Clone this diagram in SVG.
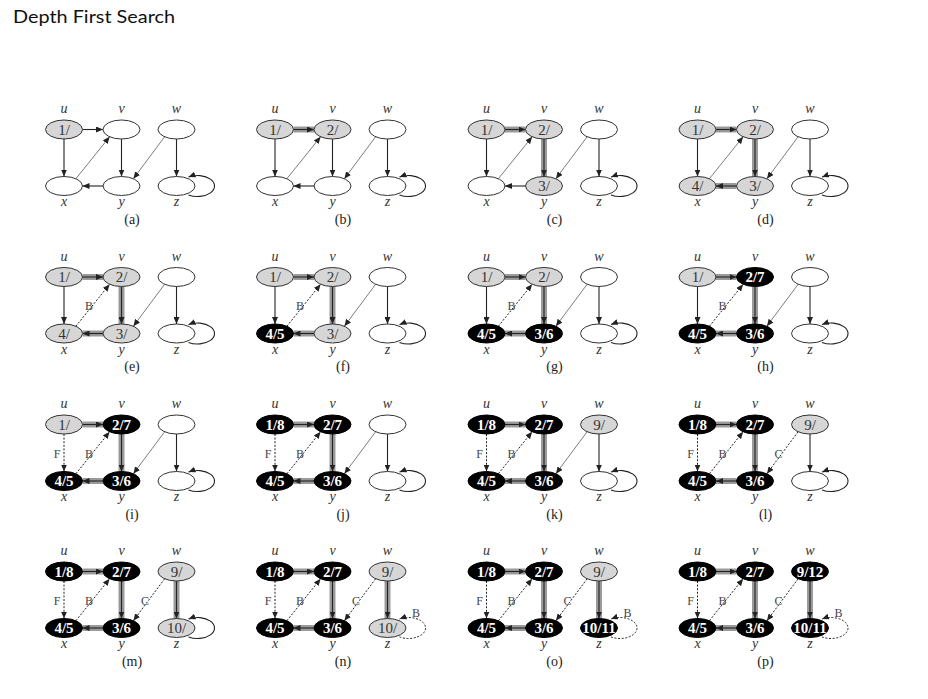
<svg xmlns="http://www.w3.org/2000/svg" width="928" height="699" viewBox="0 0 928 699">
<defs>
<marker id="ah" markerUnits="userSpaceOnUse" markerWidth="7" markerHeight="6" refX="7" refY="3" orient="auto"><path d="M0,0L7,3L0,6z" fill="#222"/></marker>
<style>
.wn{fill:#fff;stroke:#333;stroke-width:1}
.gn{fill:#d6d6d6;stroke:#333;stroke-width:1}
.bn{fill:#000;stroke:#000;stroke-width:1}
.gt{font-family:"Liberation Serif",serif;font-size:15px;fill:#333;text-anchor:middle}
.bt{font-family:"Liberation Serif",serif;font-size:15px;font-weight:bold;fill:#fff;text-anchor:middle}
.nm{font-family:"Liberation Serif",serif;font-style:italic;font-size:14px;fill:#333;text-anchor:middle}
.pl{font-family:"Liberation Serif",serif;font-size:14px;fill:#222;text-anchor:middle}
.el{font-family:"Liberation Serif",serif;font-size:12px;fill:#444;text-anchor:middle}
.e{fill:none;stroke:#222;stroke-width:1.1;marker-end:url(#ah)}
.t{fill:none;stroke:#9a9a9a;stroke-width:6}
.th{fill:none;stroke:#444;stroke-width:0.7;marker-end:url(#ah)}
.d{fill:none;stroke:#222;stroke-width:1;stroke-dasharray:2 1.6;marker-end:url(#ah)}
.title{font-family:Lato,"Open Sans",sans-serif;font-size:18px;fill:#111}
</style>
</defs>
<rect width="928" height="699" fill="#fff"/>
<text class="title" x="13" y="23" textLength="162" lengthAdjust="spacingAndGlyphs">Depth First Search</text>

<!-- (a) -->
<g id="panel-a" transform="translate(64,129.5)">
<g id="a-edges">
<path class="e" d="M18.5,0H39"/><path class="e" d="M0,9.5V47"/><path class="e" d="M57.5,9.5V47"/><path class="e" d="M39,56.5H18.5"/><path class="e" d="M112.5,9.5V47"/><path class="th" d="M11.9,49.2L45.6,7.3"/><path class="th" d="M100.6,7.3L69.4,49.2"/><path class="e" d="M124.5,65.4A17,10.5 0 1 0 124.5,47.6"/>
</g>
<g id="a-u"><ellipse class="gn" cx="0" cy="0" rx="18.5" ry="9.5"/><text class="gt" x="0" y="5">1/</text><text class="nm" x="0" y="-16.5">u</text></g>
<g id="a-v"><ellipse class="wn" cx="57.5" cy="0" rx="18.5" ry="9.5"/><text class="nm" x="57.5" y="-16.5">v</text></g>
<g id="a-w"><ellipse class="wn" cx="112.5" cy="0" rx="18.5" ry="9.5"/><text class="nm" x="112.5" y="-16.5">w</text></g>
<g id="a-x"><ellipse class="wn" cx="0" cy="56.5" rx="18.5" ry="9.5"/><text class="nm" x="0" y="76.5">x</text></g>
<g id="a-y"><ellipse class="wn" cx="57.5" cy="56.5" rx="18.5" ry="9.5"/><text class="nm" x="57.5" y="76.5">y</text></g>
<g id="a-z"><ellipse class="wn" cx="112.5" cy="56.5" rx="18.5" ry="9.5"/><text class="nm" x="112.5" y="76.5">z</text></g>
<text class="pl" x="68" y="94">(a)</text>
</g>

<!-- (b) -->
<g id="panel-b" transform="translate(275,129.5)">
<g id="b-edges">
<path class="t" d="M18.5,0H39"/>
<path class="e" d="M18.5,0H39"/><path class="e" d="M0,9.5V47"/><path class="e" d="M57.5,9.5V47"/><path class="e" d="M39,56.5H18.5"/><path class="e" d="M112.5,9.5V47"/><path class="th" d="M11.9,49.2L45.6,7.3"/><path class="th" d="M100.6,7.3L69.4,49.2"/><path class="e" d="M124.5,65.4A17,10.5 0 1 0 124.5,47.6"/>
</g>
<g id="b-u"><ellipse class="gn" cx="0" cy="0" rx="18.5" ry="9.5"/><text class="gt" x="0" y="5">1/</text><text class="nm" x="0" y="-16.5">u</text></g>
<g id="b-v"><ellipse class="gn" cx="57.5" cy="0" rx="18.5" ry="9.5"/><text class="gt" x="57.5" y="5">2/</text><text class="nm" x="57.5" y="-16.5">v</text></g>
<g id="b-w"><ellipse class="wn" cx="112.5" cy="0" rx="18.5" ry="9.5"/><text class="nm" x="112.5" y="-16.5">w</text></g>
<g id="b-x"><ellipse class="wn" cx="0" cy="56.5" rx="18.5" ry="9.5"/><text class="nm" x="0" y="76.5">x</text></g>
<g id="b-y"><ellipse class="wn" cx="57.5" cy="56.5" rx="18.5" ry="9.5"/><text class="nm" x="57.5" y="76.5">y</text></g>
<g id="b-z"><ellipse class="wn" cx="112.5" cy="56.5" rx="18.5" ry="9.5"/><text class="nm" x="112.5" y="76.5">z</text></g>
<text class="pl" x="68" y="94">(b)</text>
</g>

<!-- (c) -->
<g id="panel-c" transform="translate(486.5,129.5)">
<g id="c-edges">
<path class="t" d="M18.5,0H39"/><path class="t" d="M57.5,9.5V47"/>
<path class="e" d="M18.5,0H39"/><path class="e" d="M0,9.5V47"/><path class="e" d="M57.5,9.5V47"/><path class="e" d="M39,56.5H18.5"/><path class="e" d="M112.5,9.5V47"/><path class="th" d="M11.9,49.2L45.6,7.3"/><path class="th" d="M100.6,7.3L69.4,49.2"/><path class="e" d="M124.5,65.4A17,10.5 0 1 0 124.5,47.6"/>
</g>
<g id="c-u"><ellipse class="gn" cx="0" cy="0" rx="18.5" ry="9.5"/><text class="gt" x="0" y="5">1/</text><text class="nm" x="0" y="-16.5">u</text></g>
<g id="c-v"><ellipse class="gn" cx="57.5" cy="0" rx="18.5" ry="9.5"/><text class="gt" x="57.5" y="5">2/</text><text class="nm" x="57.5" y="-16.5">v</text></g>
<g id="c-w"><ellipse class="wn" cx="112.5" cy="0" rx="18.5" ry="9.5"/><text class="nm" x="112.5" y="-16.5">w</text></g>
<g id="c-x"><ellipse class="wn" cx="0" cy="56.5" rx="18.5" ry="9.5"/><text class="nm" x="0" y="76.5">x</text></g>
<g id="c-y"><ellipse class="gn" cx="57.5" cy="56.5" rx="18.5" ry="9.5"/><text class="gt" x="57.5" y="61.5">3/</text><text class="nm" x="57.5" y="76.5">y</text></g>
<g id="c-z"><ellipse class="wn" cx="112.5" cy="56.5" rx="18.5" ry="9.5"/><text class="nm" x="112.5" y="76.5">z</text></g>
<text class="pl" x="68" y="94">(c)</text>
</g>

<!-- (d) -->
<g id="panel-d" transform="translate(697.5,129.5)">
<g id="d-edges">
<path class="t" d="M18.5,0H39"/><path class="t" d="M57.5,9.5V47"/><path class="t" d="M39,56.5H18.5"/>
<path class="e" d="M18.5,0H39"/><path class="e" d="M0,9.5V47"/><path class="e" d="M57.5,9.5V47"/><path class="e" d="M39,56.5H18.5"/><path class="e" d="M112.5,9.5V47"/><path class="th" d="M11.9,49.2L45.6,7.3"/><path class="th" d="M100.6,7.3L69.4,49.2"/><path class="e" d="M124.5,65.4A17,10.5 0 1 0 124.5,47.6"/>
</g>
<g id="d-u"><ellipse class="gn" cx="0" cy="0" rx="18.5" ry="9.5"/><text class="gt" x="0" y="5">1/</text><text class="nm" x="0" y="-16.5">u</text></g>
<g id="d-v"><ellipse class="gn" cx="57.5" cy="0" rx="18.5" ry="9.5"/><text class="gt" x="57.5" y="5">2/</text><text class="nm" x="57.5" y="-16.5">v</text></g>
<g id="d-w"><ellipse class="wn" cx="112.5" cy="0" rx="18.5" ry="9.5"/><text class="nm" x="112.5" y="-16.5">w</text></g>
<g id="d-x"><ellipse class="gn" cx="0" cy="56.5" rx="18.5" ry="9.5"/><text class="gt" x="0" y="61.5">4/</text><text class="nm" x="0" y="76.5">x</text></g>
<g id="d-y"><ellipse class="gn" cx="57.5" cy="56.5" rx="18.5" ry="9.5"/><text class="gt" x="57.5" y="61.5">3/</text><text class="nm" x="57.5" y="76.5">y</text></g>
<g id="d-z"><ellipse class="wn" cx="112.5" cy="56.5" rx="18.5" ry="9.5"/><text class="nm" x="112.5" y="76.5">z</text></g>
<text class="pl" x="68" y="94">(d)</text>
</g>

<!-- (e) -->
<g id="panel-e" transform="translate(64,277)">
<g id="e-edges">
<path class="t" d="M18.5,0H39"/><path class="t" d="M57.5,9.5V47"/><path class="t" d="M39,56.5H18.5"/>
<path class="e" d="M18.5,0H39"/><path class="e" d="M0,9.5V47"/><path class="e" d="M57.5,9.5V47"/><path class="e" d="M39,56.5H18.5"/><path class="e" d="M112.5,9.5V47"/><path class="d" d="M11.9,49.2L45.6,7.3"/><path class="th" d="M100.6,7.3L69.4,49.2"/><path class="e" d="M124.5,65.4A17,10.5 0 1 0 124.5,47.6"/>
<text class="el" x="25" y="33">B</text>
</g>
<g id="e-u"><ellipse class="gn" cx="0" cy="0" rx="18.5" ry="9.5"/><text class="gt" x="0" y="5">1/</text><text class="nm" x="0" y="-16.5">u</text></g>
<g id="e-v"><ellipse class="gn" cx="57.5" cy="0" rx="18.5" ry="9.5"/><text class="gt" x="57.5" y="5">2/</text><text class="nm" x="57.5" y="-16.5">v</text></g>
<g id="e-w"><ellipse class="wn" cx="112.5" cy="0" rx="18.5" ry="9.5"/><text class="nm" x="112.5" y="-16.5">w</text></g>
<g id="e-x"><ellipse class="gn" cx="0" cy="56.5" rx="18.5" ry="9.5"/><text class="gt" x="0" y="61.5">4/</text><text class="nm" x="0" y="76.5">x</text></g>
<g id="e-y"><ellipse class="gn" cx="57.5" cy="56.5" rx="18.5" ry="9.5"/><text class="gt" x="57.5" y="61.5">3/</text><text class="nm" x="57.5" y="76.5">y</text></g>
<g id="e-z"><ellipse class="wn" cx="112.5" cy="56.5" rx="18.5" ry="9.5"/><text class="nm" x="112.5" y="76.5">z</text></g>
<text class="pl" x="68" y="94">(e)</text>
</g>

<!-- (f) -->
<g id="panel-f" transform="translate(275,277)">
<g id="f-edges">
<path class="t" d="M18.5,0H39"/><path class="t" d="M57.5,9.5V47"/><path class="t" d="M39,56.5H18.5"/>
<path class="e" d="M18.5,0H39"/><path class="e" d="M0,9.5V47"/><path class="e" d="M57.5,9.5V47"/><path class="e" d="M39,56.5H18.5"/><path class="e" d="M112.5,9.5V47"/><path class="d" d="M11.9,49.2L45.6,7.3"/><path class="th" d="M100.6,7.3L69.4,49.2"/><path class="e" d="M124.5,65.4A17,10.5 0 1 0 124.5,47.6"/>
<text class="el" x="25" y="33">B</text>
</g>
<g id="f-u"><ellipse class="gn" cx="0" cy="0" rx="18.5" ry="9.5"/><text class="gt" x="0" y="5">1/</text><text class="nm" x="0" y="-16.5">u</text></g>
<g id="f-v"><ellipse class="gn" cx="57.5" cy="0" rx="18.5" ry="9.5"/><text class="gt" x="57.5" y="5">2/</text><text class="nm" x="57.5" y="-16.5">v</text></g>
<g id="f-w"><ellipse class="wn" cx="112.5" cy="0" rx="18.5" ry="9.5"/><text class="nm" x="112.5" y="-16.5">w</text></g>
<g id="f-x"><ellipse class="bn" cx="0" cy="56.5" rx="18.5" ry="9.5"/><text class="bt" x="0" y="61.5">4/5</text><text class="nm" x="0" y="76.5">x</text></g>
<g id="f-y"><ellipse class="gn" cx="57.5" cy="56.5" rx="18.5" ry="9.5"/><text class="gt" x="57.5" y="61.5">3/</text><text class="nm" x="57.5" y="76.5">y</text></g>
<g id="f-z"><ellipse class="wn" cx="112.5" cy="56.5" rx="18.5" ry="9.5"/><text class="nm" x="112.5" y="76.5">z</text></g>
<text class="pl" x="68" y="94">(f)</text>
</g>

<!-- (g) -->
<g id="panel-g" transform="translate(486.5,277)">
<g id="g-edges">
<path class="t" d="M18.5,0H39"/><path class="t" d="M57.5,9.5V47"/><path class="t" d="M39,56.5H18.5"/>
<path class="e" d="M18.5,0H39"/><path class="e" d="M0,9.5V47"/><path class="e" d="M57.5,9.5V47"/><path class="e" d="M39,56.5H18.5"/><path class="e" d="M112.5,9.5V47"/><path class="d" d="M11.9,49.2L45.6,7.3"/><path class="th" d="M100.6,7.3L69.4,49.2"/><path class="e" d="M124.5,65.4A17,10.5 0 1 0 124.5,47.6"/>
<text class="el" x="25" y="33">B</text>
</g>
<g id="g-u"><ellipse class="gn" cx="0" cy="0" rx="18.5" ry="9.5"/><text class="gt" x="0" y="5">1/</text><text class="nm" x="0" y="-16.5">u</text></g>
<g id="g-v"><ellipse class="gn" cx="57.5" cy="0" rx="18.5" ry="9.5"/><text class="gt" x="57.5" y="5">2/</text><text class="nm" x="57.5" y="-16.5">v</text></g>
<g id="g-w"><ellipse class="wn" cx="112.5" cy="0" rx="18.5" ry="9.5"/><text class="nm" x="112.5" y="-16.5">w</text></g>
<g id="g-x"><ellipse class="bn" cx="0" cy="56.5" rx="18.5" ry="9.5"/><text class="bt" x="0" y="61.5">4/5</text><text class="nm" x="0" y="76.5">x</text></g>
<g id="g-y"><ellipse class="bn" cx="57.5" cy="56.5" rx="18.5" ry="9.5"/><text class="bt" x="57.5" y="61.5">3/6</text><text class="nm" x="57.5" y="76.5">y</text></g>
<g id="g-z"><ellipse class="wn" cx="112.5" cy="56.5" rx="18.5" ry="9.5"/><text class="nm" x="112.5" y="76.5">z</text></g>
<text class="pl" x="68" y="94">(g)</text>
</g>

<!-- (h) -->
<g id="panel-h" transform="translate(697.5,277)">
<g id="h-edges">
<path class="t" d="M18.5,0H39"/><path class="t" d="M57.5,9.5V47"/><path class="t" d="M39,56.5H18.5"/>
<path class="e" d="M18.5,0H39"/><path class="e" d="M0,9.5V47"/><path class="e" d="M57.5,9.5V47"/><path class="e" d="M39,56.5H18.5"/><path class="e" d="M112.5,9.5V47"/><path class="d" d="M11.9,49.2L45.6,7.3"/><path class="th" d="M100.6,7.3L69.4,49.2"/><path class="e" d="M124.5,65.4A17,10.5 0 1 0 124.5,47.6"/>
<text class="el" x="25" y="33">B</text>
</g>
<g id="h-u"><ellipse class="gn" cx="0" cy="0" rx="18.5" ry="9.5"/><text class="gt" x="0" y="5">1/</text><text class="nm" x="0" y="-16.5">u</text></g>
<g id="h-v"><ellipse class="bn" cx="57.5" cy="0" rx="18.5" ry="9.5"/><text class="bt" x="57.5" y="5">2/7</text><text class="nm" x="57.5" y="-16.5">v</text></g>
<g id="h-w"><ellipse class="wn" cx="112.5" cy="0" rx="18.5" ry="9.5"/><text class="nm" x="112.5" y="-16.5">w</text></g>
<g id="h-x"><ellipse class="bn" cx="0" cy="56.5" rx="18.5" ry="9.5"/><text class="bt" x="0" y="61.5">4/5</text><text class="nm" x="0" y="76.5">x</text></g>
<g id="h-y"><ellipse class="bn" cx="57.5" cy="56.5" rx="18.5" ry="9.5"/><text class="bt" x="57.5" y="61.5">3/6</text><text class="nm" x="57.5" y="76.5">y</text></g>
<g id="h-z"><ellipse class="wn" cx="112.5" cy="56.5" rx="18.5" ry="9.5"/><text class="nm" x="112.5" y="76.5">z</text></g>
<text class="pl" x="68" y="94">(h)</text>
</g>

<!-- (i) -->
<g id="panel-i" transform="translate(64,424.5)">
<g id="i-edges">
<path class="t" d="M18.5,0H39"/><path class="t" d="M57.5,9.5V47"/><path class="t" d="M39,56.5H18.5"/>
<path class="e" d="M18.5,0H39"/><path class="d" d="M0,9.5V47"/><path class="e" d="M57.5,9.5V47"/><path class="e" d="M39,56.5H18.5"/><path class="e" d="M112.5,9.5V47"/><path class="d" d="M11.9,49.2L45.6,7.3"/><path class="th" d="M100.6,7.3L69.4,49.2"/><path class="e" d="M124.5,65.4A17,10.5 0 1 0 124.5,47.6"/>
<text class="el" x="-7" y="33">F</text><text class="el" x="25" y="33">B</text>
</g>
<g id="i-u"><ellipse class="gn" cx="0" cy="0" rx="18.5" ry="9.5"/><text class="gt" x="0" y="5">1/</text><text class="nm" x="0" y="-16.5">u</text></g>
<g id="i-v"><ellipse class="bn" cx="57.5" cy="0" rx="18.5" ry="9.5"/><text class="bt" x="57.5" y="5">2/7</text><text class="nm" x="57.5" y="-16.5">v</text></g>
<g id="i-w"><ellipse class="wn" cx="112.5" cy="0" rx="18.5" ry="9.5"/><text class="nm" x="112.5" y="-16.5">w</text></g>
<g id="i-x"><ellipse class="bn" cx="0" cy="56.5" rx="18.5" ry="9.5"/><text class="bt" x="0" y="61.5">4/5</text><text class="nm" x="0" y="76.5">x</text></g>
<g id="i-y"><ellipse class="bn" cx="57.5" cy="56.5" rx="18.5" ry="9.5"/><text class="bt" x="57.5" y="61.5">3/6</text><text class="nm" x="57.5" y="76.5">y</text></g>
<g id="i-z"><ellipse class="wn" cx="112.5" cy="56.5" rx="18.5" ry="9.5"/><text class="nm" x="112.5" y="76.5">z</text></g>
<text class="pl" x="68" y="94">(i)</text>
</g>

<!-- (j) -->
<g id="panel-j" transform="translate(275,424.5)">
<g id="j-edges">
<path class="t" d="M18.5,0H39"/><path class="t" d="M57.5,9.5V47"/><path class="t" d="M39,56.5H18.5"/>
<path class="e" d="M18.5,0H39"/><path class="d" d="M0,9.5V47"/><path class="e" d="M57.5,9.5V47"/><path class="e" d="M39,56.5H18.5"/><path class="e" d="M112.5,9.5V47"/><path class="d" d="M11.9,49.2L45.6,7.3"/><path class="th" d="M100.6,7.3L69.4,49.2"/><path class="e" d="M124.5,65.4A17,10.5 0 1 0 124.5,47.6"/>
<text class="el" x="-7" y="33">F</text><text class="el" x="25" y="33">B</text>
</g>
<g id="j-u"><ellipse class="bn" cx="0" cy="0" rx="18.5" ry="9.5"/><text class="bt" x="0" y="5">1/8</text><text class="nm" x="0" y="-16.5">u</text></g>
<g id="j-v"><ellipse class="bn" cx="57.5" cy="0" rx="18.5" ry="9.5"/><text class="bt" x="57.5" y="5">2/7</text><text class="nm" x="57.5" y="-16.5">v</text></g>
<g id="j-w"><ellipse class="wn" cx="112.5" cy="0" rx="18.5" ry="9.5"/><text class="nm" x="112.5" y="-16.5">w</text></g>
<g id="j-x"><ellipse class="bn" cx="0" cy="56.5" rx="18.5" ry="9.5"/><text class="bt" x="0" y="61.5">4/5</text><text class="nm" x="0" y="76.5">x</text></g>
<g id="j-y"><ellipse class="bn" cx="57.5" cy="56.5" rx="18.5" ry="9.5"/><text class="bt" x="57.5" y="61.5">3/6</text><text class="nm" x="57.5" y="76.5">y</text></g>
<g id="j-z"><ellipse class="wn" cx="112.5" cy="56.5" rx="18.5" ry="9.5"/><text class="nm" x="112.5" y="76.5">z</text></g>
<text class="pl" x="68" y="94">(j)</text>
</g>

<!-- (k) -->
<g id="panel-k" transform="translate(486.5,424.5)">
<g id="k-edges">
<path class="t" d="M18.5,0H39"/><path class="t" d="M57.5,9.5V47"/><path class="t" d="M39,56.5H18.5"/>
<path class="e" d="M18.5,0H39"/><path class="d" d="M0,9.5V47"/><path class="e" d="M57.5,9.5V47"/><path class="e" d="M39,56.5H18.5"/><path class="e" d="M112.5,9.5V47"/><path class="d" d="M11.9,49.2L45.6,7.3"/><path class="th" d="M100.6,7.3L69.4,49.2"/><path class="e" d="M124.5,65.4A17,10.5 0 1 0 124.5,47.6"/>
<text class="el" x="-7" y="33">F</text><text class="el" x="25" y="33">B</text>
</g>
<g id="k-u"><ellipse class="bn" cx="0" cy="0" rx="18.5" ry="9.5"/><text class="bt" x="0" y="5">1/8</text><text class="nm" x="0" y="-16.5">u</text></g>
<g id="k-v"><ellipse class="bn" cx="57.5" cy="0" rx="18.5" ry="9.5"/><text class="bt" x="57.5" y="5">2/7</text><text class="nm" x="57.5" y="-16.5">v</text></g>
<g id="k-w"><ellipse class="gn" cx="112.5" cy="0" rx="18.5" ry="9.5"/><text class="gt" x="112.5" y="5">9/</text><text class="nm" x="112.5" y="-16.5">w</text></g>
<g id="k-x"><ellipse class="bn" cx="0" cy="56.5" rx="18.5" ry="9.5"/><text class="bt" x="0" y="61.5">4/5</text><text class="nm" x="0" y="76.5">x</text></g>
<g id="k-y"><ellipse class="bn" cx="57.5" cy="56.5" rx="18.5" ry="9.5"/><text class="bt" x="57.5" y="61.5">3/6</text><text class="nm" x="57.5" y="76.5">y</text></g>
<g id="k-z"><ellipse class="wn" cx="112.5" cy="56.5" rx="18.5" ry="9.5"/><text class="nm" x="112.5" y="76.5">z</text></g>
<text class="pl" x="68" y="94">(k)</text>
</g>

<!-- (l) -->
<g id="panel-l" transform="translate(697.5,424.5)">
<g id="l-edges">
<path class="t" d="M18.5,0H39"/><path class="t" d="M57.5,9.5V47"/><path class="t" d="M39,56.5H18.5"/>
<path class="e" d="M18.5,0H39"/><path class="d" d="M0,9.5V47"/><path class="e" d="M57.5,9.5V47"/><path class="e" d="M39,56.5H18.5"/><path class="e" d="M112.5,9.5V47"/><path class="d" d="M11.9,49.2L45.6,7.3"/><path class="d" d="M100.6,7.3L69.4,49.2"/><path class="e" d="M124.5,65.4A17,10.5 0 1 0 124.5,47.6"/>
<text class="el" x="-7" y="33">F</text><text class="el" x="25" y="33">B</text><text class="el" x="81" y="33">C</text>
</g>
<g id="l-u"><ellipse class="bn" cx="0" cy="0" rx="18.5" ry="9.5"/><text class="bt" x="0" y="5">1/8</text><text class="nm" x="0" y="-16.5">u</text></g>
<g id="l-v"><ellipse class="bn" cx="57.5" cy="0" rx="18.5" ry="9.5"/><text class="bt" x="57.5" y="5">2/7</text><text class="nm" x="57.5" y="-16.5">v</text></g>
<g id="l-w"><ellipse class="gn" cx="112.5" cy="0" rx="18.5" ry="9.5"/><text class="gt" x="112.5" y="5">9/</text><text class="nm" x="112.5" y="-16.5">w</text></g>
<g id="l-x"><ellipse class="bn" cx="0" cy="56.5" rx="18.5" ry="9.5"/><text class="bt" x="0" y="61.5">4/5</text><text class="nm" x="0" y="76.5">x</text></g>
<g id="l-y"><ellipse class="bn" cx="57.5" cy="56.5" rx="18.5" ry="9.5"/><text class="bt" x="57.5" y="61.5">3/6</text><text class="nm" x="57.5" y="76.5">y</text></g>
<g id="l-z"><ellipse class="wn" cx="112.5" cy="56.5" rx="18.5" ry="9.5"/><text class="nm" x="112.5" y="76.5">z</text></g>
<text class="pl" x="68" y="94">(l)</text>
</g>

<!-- (m) -->
<g id="panel-m" transform="translate(64,571.5)">
<g id="m-edges">
<path class="t" d="M18.5,0H39"/><path class="t" d="M57.5,9.5V47"/><path class="t" d="M39,56.5H18.5"/><path class="t" d="M112.5,9.5V47"/>
<path class="e" d="M18.5,0H39"/><path class="d" d="M0,9.5V47"/><path class="e" d="M57.5,9.5V47"/><path class="e" d="M39,56.5H18.5"/><path class="e" d="M112.5,9.5V47"/><path class="d" d="M11.9,49.2L45.6,7.3"/><path class="d" d="M100.6,7.3L69.4,49.2"/><path class="e" d="M124.5,65.4A17,10.5 0 1 0 124.5,47.6"/>
<text class="el" x="-7" y="33">F</text><text class="el" x="25" y="33">B</text><text class="el" x="81" y="33">C</text>
</g>
<g id="m-u"><ellipse class="bn" cx="0" cy="0" rx="18.5" ry="9.5"/><text class="bt" x="0" y="5">1/8</text><text class="nm" x="0" y="-16.5">u</text></g>
<g id="m-v"><ellipse class="bn" cx="57.5" cy="0" rx="18.5" ry="9.5"/><text class="bt" x="57.5" y="5">2/7</text><text class="nm" x="57.5" y="-16.5">v</text></g>
<g id="m-w"><ellipse class="gn" cx="112.5" cy="0" rx="18.5" ry="9.5"/><text class="gt" x="112.5" y="5">9/</text><text class="nm" x="112.5" y="-16.5">w</text></g>
<g id="m-x"><ellipse class="bn" cx="0" cy="56.5" rx="18.5" ry="9.5"/><text class="bt" x="0" y="61.5">4/5</text><text class="nm" x="0" y="76.5">x</text></g>
<g id="m-y"><ellipse class="bn" cx="57.5" cy="56.5" rx="18.5" ry="9.5"/><text class="bt" x="57.5" y="61.5">3/6</text><text class="nm" x="57.5" y="76.5">y</text></g>
<g id="m-z"><ellipse class="gn" cx="112.5" cy="56.5" rx="18.5" ry="9.5"/><text class="gt" x="112.5" y="61.5">10/</text><text class="nm" x="112.5" y="76.5">z</text></g>
<text class="pl" x="68" y="94">(m)</text>
</g>

<!-- (n) -->
<g id="panel-n" transform="translate(275,571.5)">
<g id="n-edges">
<path class="t" d="M18.5,0H39"/><path class="t" d="M57.5,9.5V47"/><path class="t" d="M39,56.5H18.5"/><path class="t" d="M112.5,9.5V47"/>
<path class="e" d="M18.5,0H39"/><path class="d" d="M0,9.5V47"/><path class="e" d="M57.5,9.5V47"/><path class="e" d="M39,56.5H18.5"/><path class="e" d="M112.5,9.5V47"/><path class="d" d="M11.9,49.2L45.6,7.3"/><path class="d" d="M100.6,7.3L69.4,49.2"/><path class="d" d="M124.5,65.4A17,10.5 0 1 0 124.5,47.6"/>
<text class="el" x="-7" y="33">F</text><text class="el" x="25" y="33">B</text><text class="el" x="81" y="33">C</text><text class="el" x="141" y="45">B</text>
</g>
<g id="n-u"><ellipse class="bn" cx="0" cy="0" rx="18.5" ry="9.5"/><text class="bt" x="0" y="5">1/8</text><text class="nm" x="0" y="-16.5">u</text></g>
<g id="n-v"><ellipse class="bn" cx="57.5" cy="0" rx="18.5" ry="9.5"/><text class="bt" x="57.5" y="5">2/7</text><text class="nm" x="57.5" y="-16.5">v</text></g>
<g id="n-w"><ellipse class="gn" cx="112.5" cy="0" rx="18.5" ry="9.5"/><text class="gt" x="112.5" y="5">9/</text><text class="nm" x="112.5" y="-16.5">w</text></g>
<g id="n-x"><ellipse class="bn" cx="0" cy="56.5" rx="18.5" ry="9.5"/><text class="bt" x="0" y="61.5">4/5</text><text class="nm" x="0" y="76.5">x</text></g>
<g id="n-y"><ellipse class="bn" cx="57.5" cy="56.5" rx="18.5" ry="9.5"/><text class="bt" x="57.5" y="61.5">3/6</text><text class="nm" x="57.5" y="76.5">y</text></g>
<g id="n-z"><ellipse class="gn" cx="112.5" cy="56.5" rx="18.5" ry="9.5"/><text class="gt" x="112.5" y="61.5">10/</text><text class="nm" x="112.5" y="76.5">z</text></g>
<text class="pl" x="68" y="94">(n)</text>
</g>

<!-- (o) -->
<g id="panel-o" transform="translate(486.5,571.5)">
<g id="o-edges">
<path class="t" d="M18.5,0H39"/><path class="t" d="M57.5,9.5V47"/><path class="t" d="M39,56.5H18.5"/><path class="t" d="M112.5,9.5V47"/>
<path class="e" d="M18.5,0H39"/><path class="d" d="M0,9.5V47"/><path class="e" d="M57.5,9.5V47"/><path class="e" d="M39,56.5H18.5"/><path class="e" d="M112.5,9.5V47"/><path class="d" d="M11.9,49.2L45.6,7.3"/><path class="d" d="M100.6,7.3L69.4,49.2"/><path class="d" d="M124.5,65.4A17,10.5 0 1 0 124.5,47.6"/>
<text class="el" x="-7" y="33">F</text><text class="el" x="25" y="33">B</text><text class="el" x="81" y="33">C</text><text class="el" x="141" y="45">B</text>
</g>
<g id="o-u"><ellipse class="bn" cx="0" cy="0" rx="18.5" ry="9.5"/><text class="bt" x="0" y="5">1/8</text><text class="nm" x="0" y="-16.5">u</text></g>
<g id="o-v"><ellipse class="bn" cx="57.5" cy="0" rx="18.5" ry="9.5"/><text class="bt" x="57.5" y="5">2/7</text><text class="nm" x="57.5" y="-16.5">v</text></g>
<g id="o-w"><ellipse class="gn" cx="112.5" cy="0" rx="18.5" ry="9.5"/><text class="gt" x="112.5" y="5">9/</text><text class="nm" x="112.5" y="-16.5">w</text></g>
<g id="o-x"><ellipse class="bn" cx="0" cy="56.5" rx="18.5" ry="9.5"/><text class="bt" x="0" y="61.5">4/5</text><text class="nm" x="0" y="76.5">x</text></g>
<g id="o-y"><ellipse class="bn" cx="57.5" cy="56.5" rx="18.5" ry="9.5"/><text class="bt" x="57.5" y="61.5">3/6</text><text class="nm" x="57.5" y="76.5">y</text></g>
<g id="o-z"><ellipse class="bn" cx="112.5" cy="56.5" rx="18.5" ry="9.5"/><text class="bt" x="112.5" y="61.5">10/11</text><text class="nm" x="112.5" y="76.5">z</text></g>
<text class="pl" x="68" y="94">(o)</text>
</g>

<!-- (p) -->
<g id="panel-p" transform="translate(697.5,571.5)">
<g id="p-edges">
<path class="t" d="M18.5,0H39"/><path class="t" d="M57.5,9.5V47"/><path class="t" d="M39,56.5H18.5"/><path class="t" d="M112.5,9.5V47"/>
<path class="e" d="M18.5,0H39"/><path class="d" d="M0,9.5V47"/><path class="e" d="M57.5,9.5V47"/><path class="e" d="M39,56.5H18.5"/><path class="e" d="M112.5,9.5V47"/><path class="d" d="M11.9,49.2L45.6,7.3"/><path class="d" d="M100.6,7.3L69.4,49.2"/><path class="d" d="M124.5,65.4A17,10.5 0 1 0 124.5,47.6"/>
<text class="el" x="-7" y="33">F</text><text class="el" x="25" y="33">B</text><text class="el" x="81" y="33">C</text><text class="el" x="141" y="45">B</text>
</g>
<g id="p-u"><ellipse class="bn" cx="0" cy="0" rx="18.5" ry="9.5"/><text class="bt" x="0" y="5">1/8</text><text class="nm" x="0" y="-16.5">u</text></g>
<g id="p-v"><ellipse class="bn" cx="57.5" cy="0" rx="18.5" ry="9.5"/><text class="bt" x="57.5" y="5">2/7</text><text class="nm" x="57.5" y="-16.5">v</text></g>
<g id="p-w"><ellipse class="bn" cx="112.5" cy="0" rx="18.5" ry="9.5"/><text class="bt" x="112.5" y="5">9/12</text><text class="nm" x="112.5" y="-16.5">w</text></g>
<g id="p-x"><ellipse class="bn" cx="0" cy="56.5" rx="18.5" ry="9.5"/><text class="bt" x="0" y="61.5">4/5</text><text class="nm" x="0" y="76.5">x</text></g>
<g id="p-y"><ellipse class="bn" cx="57.5" cy="56.5" rx="18.5" ry="9.5"/><text class="bt" x="57.5" y="61.5">3/6</text><text class="nm" x="57.5" y="76.5">y</text></g>
<g id="p-z"><ellipse class="bn" cx="112.5" cy="56.5" rx="18.5" ry="9.5"/><text class="bt" x="112.5" y="61.5">10/11</text><text class="nm" x="112.5" y="76.5">z</text></g>
<text class="pl" x="68" y="94">(p)</text>
</g>
</svg>
